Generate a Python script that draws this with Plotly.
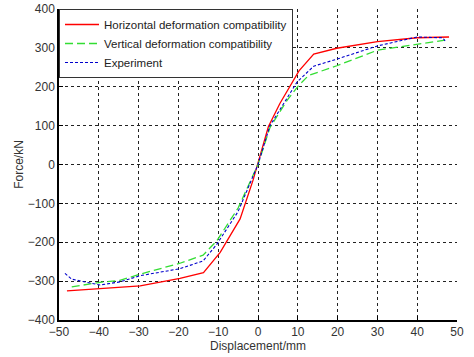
import plotly.graph_objects as go

# Horizontal deformation compatibility (red)
h_x = [-48, -39.7, -29.6, -19.6, -13.7, -9.5, -4.5, -1.2, 0, 2.6, 5.5, 10.3, 14, 19.8, 30, 40, 48]
h_y = [-325, -320, -312, -293, -278, -226, -140, -39, 5, 97, 157, 241, 284, 299, 316, 326, 328]

# Vertical deformation compatibility (green)
v_x = [-46.8, -39.7, -34.7, -29.6, -19.6, -13.8, -10.4, -5, 0, 3, 7.3, 10.2, 12.7, 19.8, 30, 40, 47.1]
v_y = [-315, -303, -298, -282, -254, -233, -197, -112, 0, 95, 165, 203, 229, 254, 294, 310, 320]

# Experiment (blue)
e_x = [-48.5, -46.8, -39.7, -34.7, -29.6, -19.6, -13.8, -10.4, -5, 0, 3, 7.3, 9.8, 14, 19.8, 30, 40, 46.4, 47]
e_y = [-280, -295, -310, -302, -286, -268, -248, -206, -121, 0, 100, 170, 212, 253, 271, 305, 328, 326, 318]

x_ticks = [-50, -40, -30, -20, -10, 0, 10, 20, 30, 40, 50]
y_ticks = [-400, -300, -200, -100, 0, 100, 200, 300, 400]

fig = go.Figure()
fig.add_trace(go.Scatter(x=h_x, y=h_y, mode="lines", name="Horizontal deformation compatibility",
                         line=dict(color="#ff0000", width=1.3)))
fig.add_trace(go.Scatter(x=v_x, y=v_y, mode="lines", name="Vertical deformation compatibility",
                         line=dict(color="#33dd33", width=1.3, dash="8px,4px")))
fig.add_trace(go.Scatter(x=e_x, y=e_y, mode="lines", name="Experiment",
                         line=dict(color="#0000cc", width=1.1, dash="3px,2px")))

grid = dict(showgrid=True, gridcolor="#222222", gridwidth=1, griddash="3px,3px",
            zeroline=False, ticks="inside", ticklen=4, tickcolor="#000",
            showline=True, linecolor="#000", linewidth=1.5, mirror=False, automargin=False,
            tickfont=dict(family="Liberation Sans, Arial", size=12, color="#333"))

fig.update_xaxes(range=[-50, 50], tickvals=x_ticks, title=dict(text="Displacement/mm", standoff=2,
                 font=dict(family="Liberation Sans, Arial", size=12, color="#333")), **grid)
fig.update_yaxes(range=[-400, 400], tickvals=y_ticks, title=dict(text="Force/kN", standoff=2,
                 font=dict(family="Liberation Sans, Arial", size=12, color="#333")), **grid)

fig.update_layout(
    width=474, height=357,
    margin=dict(l=59, r=17, t=9, b=37, autoexpand=False),
    plot_bgcolor="white", paper_bgcolor="white",
    showlegend=True,
    legend=dict(x=0, y=1, xanchor="left", yanchor="top", bgcolor="white",
                bordercolor="#333", borderwidth=1,
                font=dict(family="Liberation Sans, Arial", size=11.5, color="#222"),
                tracegroupgap=0, itemwidth=34),
)

fig.write_html("out.html", post_script="document.body.style.margin='0';",
               config={"displayModeBar": False})
